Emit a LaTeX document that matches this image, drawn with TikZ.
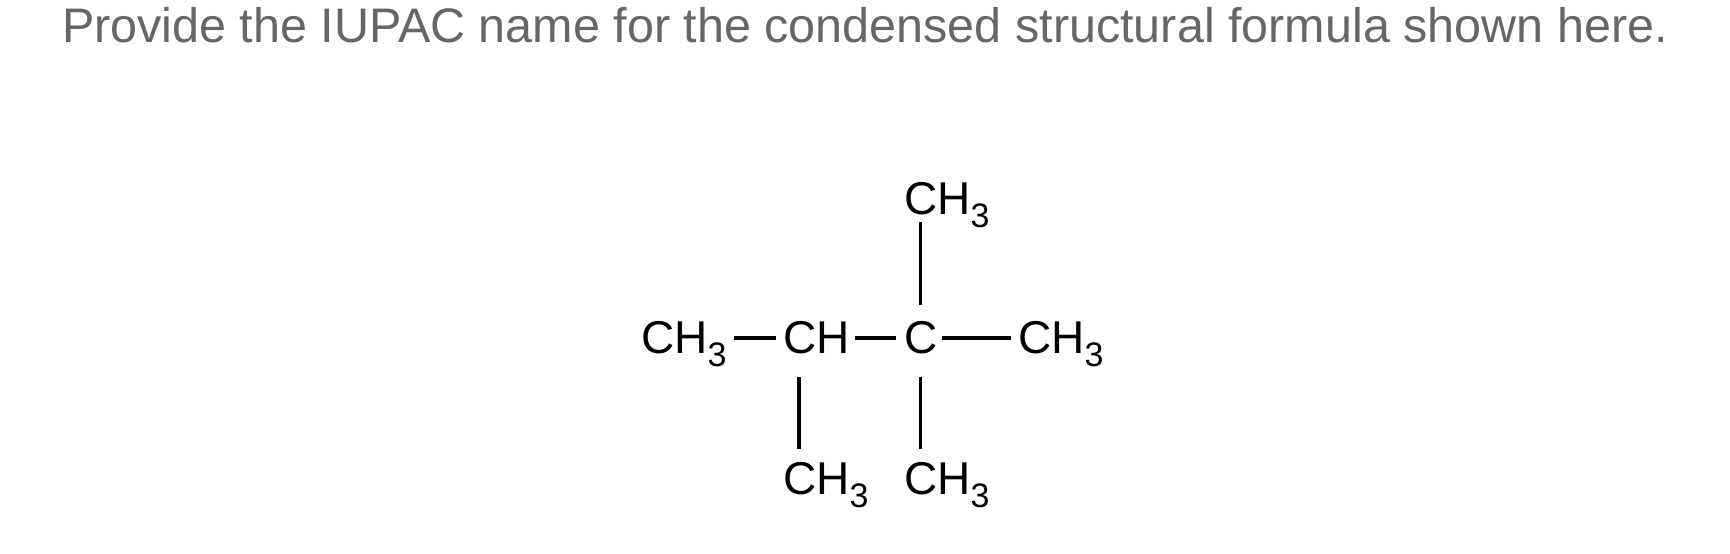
\documentclass[tikz,border=0pt]{standalone}
\usepackage{fontspec}
\setmainfont{Liberation Sans}
\newcommand{\chthree}{CH\raisebox{-0.3em}{\fontsize{34}{34}\selectfont 3}}
\begin{document}
\begin{tikzpicture}[x=1pt,y=-1pt,
  atom/.style={inner sep=0pt,anchor=base west,font=\fontsize{46}{46}\selectfont},
  bond/.style={line width=3.3pt}]
\useasboundingbox (0,0) rectangle (1730,554);
\node[inner sep=0pt,anchor=base,text=black!60,font=\fontsize{48.5}{48.5}\selectfont] (title) at (865,42) {Provide the IUPAC name for the condensed structural formula shown here.};
\node[atom] (top) at (904,214) {\chthree};
\node[atom] (m1) at (641,353) {\chthree};
\node[atom] (ch) at (783,353) {CH};
\node[atom] (c) at (904,353) {C};
\node[atom] (m4) at (1018,353) {\chthree};
\node[atom] (b1) at (783,494) {\chthree};
\node[atom] (b2) at (904,494) {\chthree};
\draw[bond] ([xshift=7pt,yshift=15pt]m1.base east) -- ([xshift=-7pt,yshift=15pt]ch.base west);
\draw[bond] ([xshift=5pt,yshift=15pt]ch.base east) -- ([xshift=-8pt,yshift=15pt]c.base west);
\draw[bond] ([xshift=4pt,yshift=15pt]c.base east) -- ([xshift=-7pt,yshift=15pt]m4.base west);
\draw[bond] ([yshift=48pt]c.base) -- ([yshift=-8pt]c.base |- top.base);
\draw[bond] ([yshift=-24pt]c.base) -- ([yshift=45pt]c.base |- b2.base);
\draw[bond] ([xshift=16pt,yshift=-24pt]ch.base west) -- ([xshift=16pt,yshift=45pt]ch.base west |- b1.base);
\end{tikzpicture}
\end{document}
